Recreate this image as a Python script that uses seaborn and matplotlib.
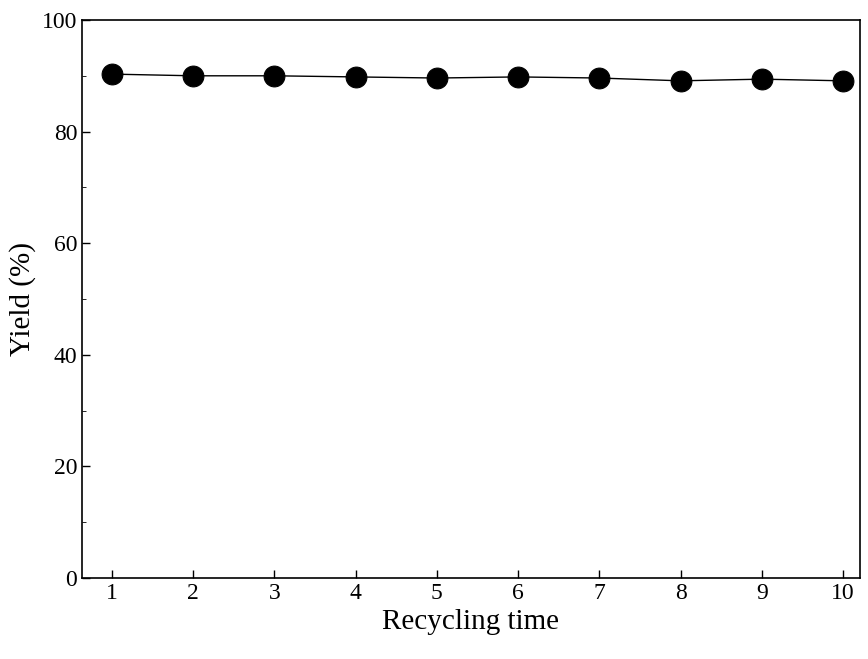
import matplotlib
matplotlib.use("Agg")
import matplotlib.pyplot as plt
import seaborn as sns
import pandas as pd
from matplotlib.ticker import MultipleLocator

recycling_time = [1, 2, 3, 4, 5, 6, 7, 8, 9, 10]
yield_pct = [90.3, 90.0, 90.0, 89.8, 89.6, 89.8, 89.6, 89.1, 89.4, 89.1]

df = pd.DataFrame({"time": recycling_time, "yield": yield_pct})

plt.rcParams["font.family"] = "Liberation Serif"
fig = plt.figure(figsize=(8.68, 6.59), dpi=100)
ax = fig.add_axes([82 / 868, 1 - 578 / 659, 778 / 868, 558 / 659])

sns.lineplot(data=df, x="time", y="yield", color="black", linewidth=1,
             marker="o", markersize=15, markeredgecolor="black", ax=ax)

ax.set_xlim(0.63, 10.21)
ax.set_ylim(0, 100)
ax.set_xticks(recycling_time)
ax.yaxis.set_major_locator(MultipleLocator(20))
ax.yaxis.set_minor_locator(MultipleLocator(10))
ax.tick_params(axis="both", direction="in", labelsize=17, length=6, width=1)
ax.tick_params(axis="y", which="minor", direction="in", length=3)
ax.set_xlabel("Recycling time", fontsize=21)
ax.set_ylabel("Yield (%)", fontsize=21)
for s in ax.spines.values():
    s.set_linewidth(1.2)

fig.savefig("out.png", dpi=100)
